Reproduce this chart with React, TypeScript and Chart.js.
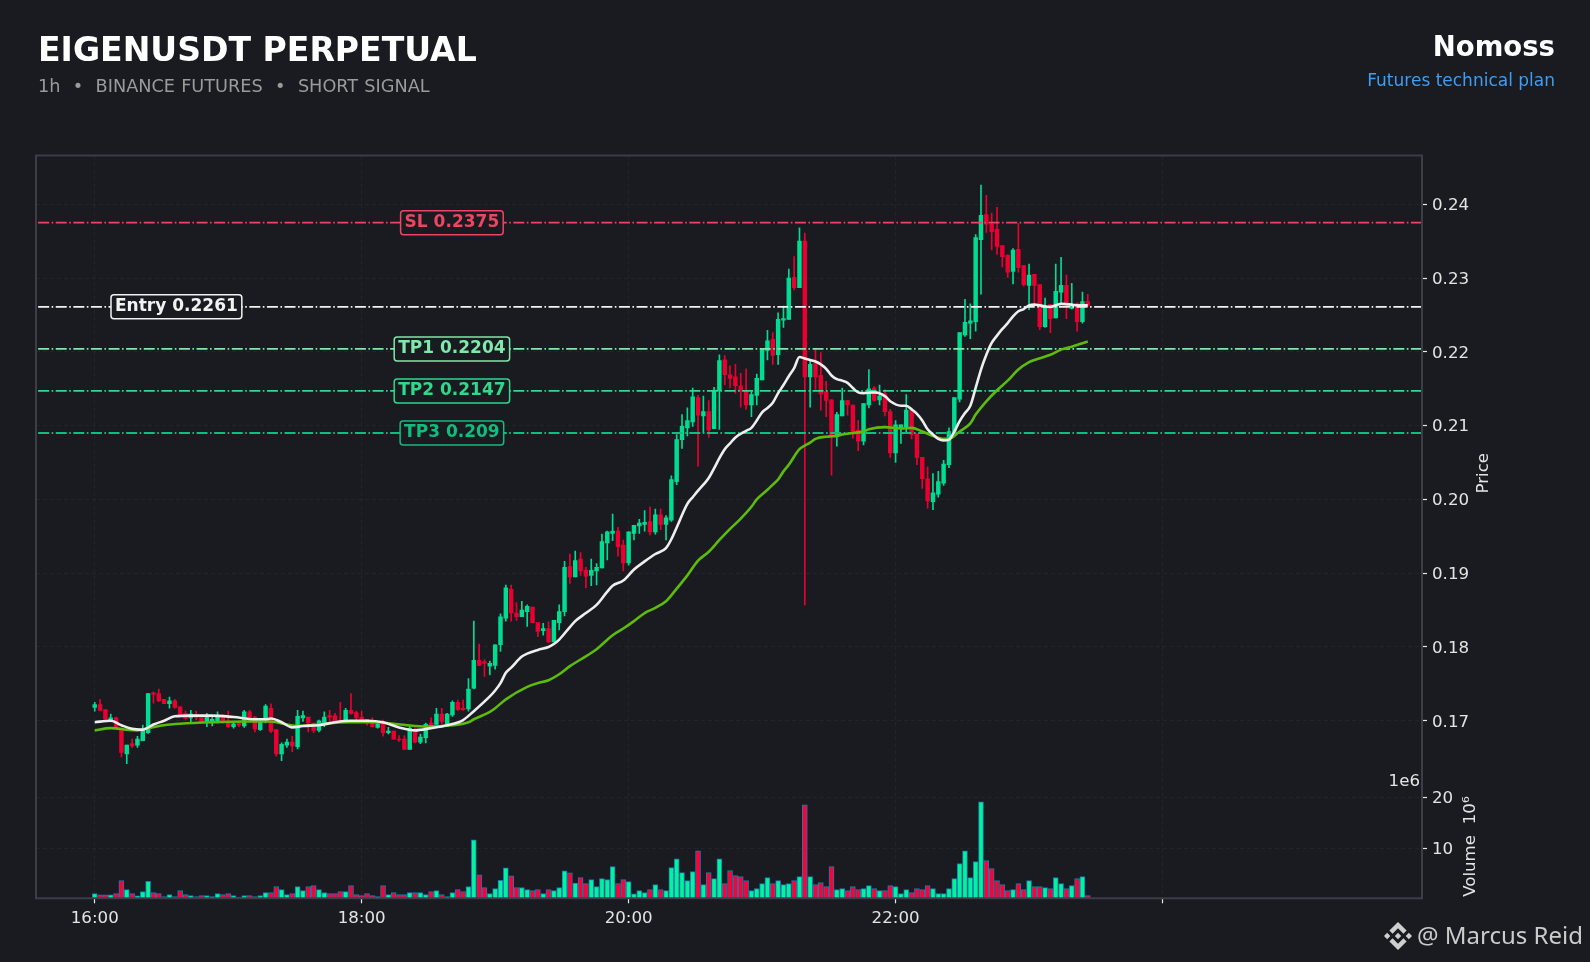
import React, { useEffect, useRef } from "react";
import { Chart, registerables } from "chart.js";

Chart.register(...registerables);

const open = [
  0.1718,0.1722,0.1715,0.1701,0.1704,0.1690,0.1655,0.1669,0.1667,0.1673,
  0.1684,0.1738,0.1737,0.1729,0.1723,0.1727,0.1719,0.1710,0.1704,0.1708,
  0.1706,0.1699,0.1699,0.1700,0.1706,0.1700,0.1692,0.1697,0.1693,0.1712,
  0.1705,0.1688,0.1702,0.1717,0.1688,0.1655,0.1667,0.1671,0.1665,0.1704,
  0.1705,0.1697,0.1687,0.1697,0.1707,0.1707,0.1701,0.1699,0.1714,0.1711,
  0.1705,0.1702,0.1698,0.1691,0.1695,0.1684,0.1686,0.1675,0.1675,0.1661,
  0.1688,0.1671,0.1677,0.1697,0.1695,0.1709,0.1696,0.1708,0.1725,0.1717,
  0.1716,0.1744,0.1782,0.1780,0.1774,0.1775,0.1803,0.1839,0.1878,0.1846,
  0.1841,0.1848,0.1854,0.1833,0.1822,0.1825,0.1807,0.1833,0.1848,0.1909,
  0.1895,0.1919,0.1904,0.1897,0.1903,0.1907,0.1941,0.1954,0.1957,0.1938,
  0.1914,0.1954,0.1964,0.1966,0.1970,0.1956,0.1979,0.1966,0.1972,0.2024,
  0.2081,0.2097,0.2105,0.2138,0.2113,0.2119,0.2096,0.2147,0.2189,0.2169,
  0.2166,0.2154,0.2147,0.2128,0.2141,0.2162,0.2202,0.2217,0.2196,0.2243,
  0.2244,0.2301,0.2287,0.2350,0.2166,0.2184,0.2168,0.2146,0.2135,0.2085,
  0.2113,0.2134,0.2128,0.2094,0.2079,0.2128,0.2151,0.2135,0.2143,0.2119,
  0.2063,0.2097,0.2098,0.2121,0.2089,0.2057,0.2028,0.1997,0.2007,0.2022,
  0.2047,0.2092,0.2136,0.2223,0.2239,0.2241,0.2352,0.2386,0.2373,0.2366,
  0.2344,0.2331,0.2309,0.2339,0.2317,0.2290,0.2305,0.2291,0.2234,0.2264,
  0.2246,0.2281,0.2290,0.2259,0.2266,0.2241,0.2268,
];
const high = [
  0.1725,0.1729,0.1715,0.1709,0.1705,0.1690,0.1667,0.1675,0.1679,0.1694,
  0.1737,0.1739,0.1743,0.1729,0.1732,0.1729,0.1719,0.1713,0.1714,0.1713,
  0.1708,0.1710,0.1706,0.1712,0.1708,0.1713,0.1699,0.1699,0.1714,0.1714,
  0.1706,0.1701,0.1722,0.1723,0.1688,0.1670,0.1675,0.1679,0.1714,0.1713,
  0.1705,0.1697,0.1701,0.1712,0.1714,0.1710,0.1725,0.1717,0.1737,0.1713,
  0.1713,0.1702,0.1704,0.1697,0.1701,0.1691,0.1686,0.1680,0.1680,0.1693,
  0.1690,0.1682,0.1697,0.1704,0.1717,0.1717,0.1710,0.1727,0.1728,0.1728,
  0.1757,0.1835,0.1804,0.1783,0.1781,0.1803,0.1845,0.1884,0.1884,0.1860,
  0.1862,0.1857,0.1854,0.1833,0.1832,0.1834,0.1836,0.1857,0.1916,0.1926,
  0.1930,0.1928,0.1908,0.1919,0.1913,0.1953,0.1957,0.1980,0.1962,0.1945,
  0.1956,0.1965,0.1973,0.1985,0.1990,0.1987,0.1987,0.1978,0.2032,0.2088,
  0.2115,0.2124,0.2151,0.2141,0.2140,0.2134,0.2152,0.2196,0.2195,0.2181,
  0.2183,0.2171,0.2177,0.2146,0.2170,0.2204,0.2229,0.2226,0.2253,0.2262,
  0.2312,0.2329,0.2368,0.2361,0.2190,0.2204,0.2199,0.2160,0.2135,0.2118,
  0.2151,0.2134,0.2128,0.2107,0.2130,0.2176,0.2153,0.2155,0.2149,0.2122,
  0.2107,0.2101,0.2142,0.2124,0.2089,0.2057,0.2044,0.2035,0.2038,0.2053,
  0.2097,0.2138,0.2226,0.2271,0.2265,0.2359,0.2426,0.2412,0.2388,0.2396,
  0.2344,0.2331,0.2340,0.2374,0.2317,0.2319,0.2305,0.2291,0.2273,0.2264,
  0.2319,0.2328,0.2304,0.2293,0.2266,0.2281,0.2278,
];
const low = [
  0.1713,0.1714,0.1702,0.1699,0.1690,0.1651,0.1642,0.1664,0.1664,0.1673,
  0.1683,0.1724,0.1726,0.1723,0.1717,0.1717,0.1706,0.1702,0.1698,0.1701,
  0.1699,0.1692,0.1693,0.1697,0.1697,0.1691,0.1690,0.1692,0.1691,0.1700,
  0.1685,0.1687,0.1697,0.1684,0.1652,0.1646,0.1664,0.1658,0.1662,0.1699,
  0.1685,0.1684,0.1685,0.1692,0.1699,0.1697,0.1698,0.1697,0.1709,0.1701,
  0.1699,0.1694,0.1692,0.1690,0.1679,0.1682,0.1675,0.1672,0.1661,0.1661,
  0.1670,0.1669,0.1670,0.1692,0.1695,0.1695,0.1695,0.1706,0.1714,0.1714,
  0.1713,0.1743,0.1775,0.1760,0.1762,0.1770,0.1794,0.1835,0.1835,0.1836,
  0.1841,0.1828,0.1833,0.1814,0.1816,0.1806,0.1807,0.1823,0.1842,0.1886,
  0.1895,0.1897,0.1880,0.1883,0.1884,0.1907,0.1918,0.1944,0.1923,0.1903,
  0.1911,0.1945,0.1954,0.1957,0.1952,0.1953,0.1959,0.1945,0.1970,0.2020,
  0.2069,0.2086,0.2099,0.2045,0.2090,0.2084,0.2096,0.2095,0.2155,0.2151,
  0.2144,0.2125,0.2122,0.2112,0.2128,0.2162,0.2189,0.2183,0.2183,0.2233,
  0.2244,0.2284,0.2287,0.1857,0.2125,0.2149,0.2121,0.2112,0.2033,0.2072,
  0.2113,0.2114,0.2083,0.2066,0.2074,0.2124,0.2133,0.2128,0.2113,0.2057,
  0.2050,0.2076,0.2090,0.2082,0.2047,0.2015,0.1988,0.1986,0.2003,0.2019,
  0.2043,0.2090,0.2132,0.2221,0.2218,0.2228,0.2278,0.2362,0.2338,0.2332,
  0.2315,0.2301,0.2292,0.2308,0.2289,0.2257,0.2264,0.2230,0.2233,0.2226,
  0.2246,0.2264,0.2245,0.2258,0.2228,0.2239,0.2262,
];
const close = [
  0.1722,0.1714,0.1702,0.1704,0.1690,0.1657,0.1667,0.1666,0.1675,0.1688,
  0.1737,0.1736,0.1727,0.1723,0.1727,0.1718,0.1708,0.1703,0.1709,0.1704,
  0.1699,0.1706,0.1702,0.1706,0.1699,0.1692,0.1696,0.1694,0.1712,0.1705,
  0.1689,0.1699,0.1720,0.1686,0.1655,0.1668,0.1671,0.1666,0.1706,0.1707,
  0.1697,0.1687,0.1700,0.1705,0.1705,0.1699,0.1699,0.1714,0.1710,0.1704,
  0.1702,0.1697,0.1692,0.1695,0.1684,0.1686,0.1675,0.1674,0.1661,0.1690,
  0.1671,0.1678,0.1695,0.1693,0.1709,0.1699,0.1709,0.1725,0.1715,0.1715,
  0.1743,0.1782,0.1775,0.1778,0.1778,0.1803,0.1841,0.1880,0.1846,0.1841,
  0.1850,0.1855,0.1833,0.1821,0.1825,0.1807,0.1836,0.1848,0.1908,0.1895,
  0.1917,0.1903,0.1896,0.1904,0.1908,0.1943,0.1956,0.1957,0.1936,0.1914,
  0.1956,0.1965,0.1968,0.1969,0.1956,0.1979,0.1966,0.1975,0.2027,0.2081,
  0.2099,0.2107,0.2139,0.2114,0.2119,0.2094,0.2147,0.2188,0.2169,0.2164,
  0.2154,0.2147,0.2128,0.2142,0.2164,0.2204,0.2215,0.2195,0.2244,0.2245,
  0.2300,0.2287,0.2350,0.2166,0.2183,0.2166,0.2143,0.2134,0.2087,0.2115,
  0.2134,0.2128,0.2092,0.2079,0.2130,0.2150,0.2134,0.2140,0.2119,0.2063,
  0.2101,0.2101,0.2121,0.2088,0.2057,0.2028,0.1998,0.2009,0.2024,0.2048,
  0.2092,0.2138,0.2226,0.2240,0.2242,0.2355,0.2385,0.2373,0.2363,0.2343,
  0.2329,0.2308,0.2338,0.2314,0.2291,0.2304,0.2290,0.2234,0.2260,0.2245,
  0.2282,0.2290,0.2264,0.2264,0.2241,0.2268,0.2263,
];
const volumeMillions = [
  1.11,0.85,0.85,0.85,1.11,3.66,1.9,1.1,0.65,1.5,
  3.5,1.3,1.1,0.5,0.9,0.5,1.7,0.9,0.7,0.5,
  0.7,0.7,0.5,1.1,0.9,1.1,0.7,0.4,0.7,0.7,
  0.5,0.7,1.3,1.3,2.5,1.9,0.9,1.1,2.5,1.7,
  2.5,2.7,1.9,1.3,1.1,1.1,1.5,1.5,2.7,0.9,
  0.7,1.1,0.7,0.5,2.7,0.9,1.3,0.9,0.9,1.3,
  1.3,1.3,0.9,1.5,1.7,0.9,0.5,1.3,1.9,1.5,
  2.5,11.7,4.8,2.3,1.1,2.1,3.7,6.2,4.6,2.3,
  2.3,1.9,1.7,1.9,1.1,1.9,1.7,2.3,5.6,5.2,
  3.2,4.25,3.07,3.86,2.48,4.05,3.86,6.41,3.07,3.86,
  3.46,1.05,1.7,1.31,1.9,2.88,1.9,1.7,6.21,7.97,
  5.23,3.66,5.42,9.54,2.88,5.23,4.05,7.97,3.07,5.62,
  4.64,4.44,3.66,1.7,2.09,3.07,4.25,3.07,3.66,2.88,
  3.07,3.66,4.44,18.56,4.44,2.88,3.27,2.48,6.41,1.9,
  2.09,1.7,2.48,1.9,2.09,2.68,2.09,1.7,1.7,2.68,
  2.48,1.11,1.9,1.31,2.09,1.9,2.68,2.09,1.11,1.11,
  2.09,4.05,6.99,9.54,4.25,7.39,19.15,7.58,6.01,3.66,
  2.88,1.7,1.9,3.07,1.9,3.66,2.48,2.48,2.29,2.09,
  4.25,3.07,2.09,2.68,4.05,4.44,0.72,
];

const fastIndex = [
  0,3,5,7,9,11,13,15,18,22,26,30,32,33,35,37,39,42,45,48,51,54,57,60,63,66,69,71,74,75,76,77,78,80,81,83,85,86,87,89,90,92,94,96,97,99,101,103,105,107,108,109,111,112,113,114,115,116,117,118,119,120,122,123,124,125,126,127,128,129,130,131,132,133,134,135,136,137,138,139,140,141,142,143,144,146,148,149,151,152,153,154,155,156,157,158,159,160,161,162,163,164,165,166,167,168,169,170,171,172,173,174,175,176,177,179,180,181,183,184,186,
];
const fastValue = [
  0.1698,0.17,0.1694,0.1689,0.1688,0.1695,0.17,0.1706,0.1707,0.1707,0.1705,0.1702,0.1702,0.1703,0.1698,0.1691,0.1693,0.1694,0.1698,0.17,0.17,0.1698,0.1691,0.1687,0.169,0.1694,0.1701,0.1713,0.1733,0.1741,0.1751,0.1765,0.1772,0.1787,0.1791,0.1796,0.18,0.1804,0.181,0.1827,0.1835,0.1846,0.1857,0.1875,0.1883,0.189,0.1905,0.1916,0.1926,0.1934,0.1946,0.1962,0.1994,0.2003,0.2012,0.202,0.2029,0.2042,0.2056,0.2068,0.2076,0.2084,0.2093,0.2097,0.2107,0.2118,0.2124,0.2131,0.2144,0.2155,0.2167,0.2178,0.2193,0.2191,0.2189,0.2187,0.2183,0.2177,0.2168,0.2163,0.2161,0.2158,0.2151,0.2145,0.2144,0.2145,0.214,0.2133,0.2127,0.2127,0.2122,0.2116,0.2107,0.2095,0.2088,0.2082,0.208,0.2081,0.2092,0.2106,0.2117,0.2127,0.2151,0.2176,0.2196,0.2212,0.2222,0.2231,0.2239,0.2248,0.2255,0.2258,0.2263,0.2264,0.2263,0.2261,0.2263,0.2265,0.2264,0.2263,0.2263,
];
const slowIndex = [
  0,3,6,8,10,13,16,22,28,33,36,38,42,47,52,56,60,63,67,70,71,74,75,77,81,83,85,87,89,91,94,97,99,101,103,105,107,108,109,111,113,115,117,119,121,123,124,126,127,128,129,130,132,133,134,135,137,139,140,142,144,145,148,151,153,155,157,159,160,162,164,165,167,169,171,173,175,176,179,181,183,186,
];
const slowValue = [
  0.1687,0.169,0.1688,0.1687,0.169,0.1694,0.1696,0.1698,0.1699,0.1699,0.1695,0.1693,0.1695,0.1698,0.1698,0.1696,0.1693,0.1692,0.1694,0.1698,0.1702,0.1712,0.1717,0.1729,0.1746,0.1751,0.1755,0.1763,0.1774,0.1783,0.1797,0.1816,0.1825,0.1835,0.1846,0.1853,0.1862,0.187,0.1879,0.1897,0.1917,0.1929,0.1945,0.196,0.1974,0.199,0.2,0.2013,0.202,0.2027,0.2038,0.2047,0.2068,0.2073,0.2077,0.2082,0.2085,0.2086,0.2088,0.209,0.2092,0.2095,0.2098,0.2096,0.2097,0.2092,0.2086,0.2082,0.2082,0.2092,0.2103,0.2115,0.2133,0.2148,0.2161,0.2176,0.2186,0.2189,0.2196,0.2203,0.2207,0.2214,
];

const levelPrices = [0.2375, 0.2261, 0.2204, 0.2147, 0.209];
const levelLabels = ["SL 0.2375", "Entry 0.2261", "TP1 0.2204", "TP2 0.2147", "TP3 0.209"];
const levelColors = ["#ee4562", "#f2f2f2", "#7fe8ab", "#2fd98c", "#10bd7e"];
const labelIndex = [66.9, 15.3, 66.9, 66.9, 66.9];

const xTickValues = [0, 50, 100, 150, 200];
const xTickLabels = ["16:00", "18:00", "20:00", "22:00", ""];
const priceTicks = [0.17, 0.18, 0.19, 0.2, 0.21, 0.22, 0.23, 0.24];
const volumeTicks = [10, 20];

const BG = "#191b20";
const CANDLE_UP = "#00dc91";
const CANDLE_DOWN = "#ea0030";
const VOL_UP = "#00f59b";
const VOL_DOWN = "#ff0033";
const GRID = "rgba(255,255,255,0.045)";
const X_MIN = -11;
const X_MAX = 248.6;
const TICK_FONT = { family: "DejaVu Sans", size: 16.67 };
const BINANCE_MARK =
  "M38.73 53.2l24.59-24.58 24.6 24.6 14.3-14.31L63.32 0l-38.9 38.9zM0 63.31l14.3-14.31 14.31 14.31-14.31 14.3zM38.73 73.41l24.59 24.59 24.6-24.6 14.31 14.29-38.9 38.91-38.91-38.88-.02-.02zM98 63.31l14.3-14.31 14.31 14.3-14.31 14.32zM77.83 63.3L63.32 48.78 52.59 59.51l-1.24 1.23-2.54 2.54 14.51 14.5 14.5-14.47z";

const isUp = open.map((o, i) => close[i] >= o);

const overlay = {
  id: "overlay",
  beforeDraw(chart: any) {
    // The reference sets its value labels slightly below the tick mark.
    [chart.scales.price, chart.scales.volume].forEach((s: any, n: number) => {
      s.getLabelItems().forEach((item: any) => {
        item.options.translation = [item.options.translation[0], item.options.translation[1] + (n === 0 ? 1.5 : 1)];
      });
    });
  },
  afterDraw(chart: any) {
    const { ctx, chartArea, scales } = chart;
    ctx.save();
    ctx.strokeStyle = "#3b3e46";
    ctx.lineWidth = 2;
    ctx.strokeRect(chartArea.left, chartArea.top, chartArea.right - chartArea.left, chartArea.bottom - chartArea.top);

    ctx.textAlign = "center";
    ctx.textBaseline = "middle";
    ctx.font = 'bold 17px "DejaVu Sans"';
    levelLabels.forEach((t, i) => {
      const x = scales.x.getPixelForValue(labelIndex[i]);
      const y = scales.price.getPixelForValue(levelPrices[i]);
      const w = ctx.measureText(t).width + 8;
      const h = 24;
      ctx.beginPath();
      ctx.roundRect(x - w / 2, y - h / 2, w, h, 3);
      ctx.fillStyle = BG;
      ctx.fill();
      ctx.lineWidth = 1.5;
      ctx.strokeStyle = levelColors[i];
      ctx.stroke();
      ctx.fillStyle = levelColors[i];
      ctx.fillText(t, x, y - 0.5);
    });

    ctx.fillStyle = "#e4e4e4";
    ctx.font = '16.67px "DejaVu Sans"';
    const side = (t: string, x: number, y: number) => {
      ctx.save();
      ctx.translate(x, y);
      ctx.rotate(-Math.PI / 2);
      ctx.fillText(t, 0, 0);
      ctx.restore();
    };
    side("Price", 1484, (scales.price.top + scales.price.bottom) / 2);
    side("Volume  10\u2076", 1471, (scales.volume.top + scales.volume.bottom) / 2 + 2);
    ctx.textAlign = "right";
    ctx.fillText("1e6", 1420, 782);
    ctx.restore();
  },
};

const yAxisBase = {
  position: "right" as const,
  stack: "panels",
  border: { display: false, dash: [4, 3] },
  grid: { color: GRID, lineWidth: 1, tickColor: "#e8e8e8", tickLength: 5, tickWidth: 1.2 },
  afterFit(s: any) {
    s.width = 168;
  },
};

export default function App() {
  const ref = useRef<HTMLCanvasElement>(null);
  useEffect(() => {
    document.body.style.margin = "0";
    document.body.style.background = BG;
    const bars = (
      label: string,
      yAxisID: string,
      data: any[],
      colors: string[],
      thickness: number,
      order: number,
      extra: any = {},
    ) => ({
      type: "bar" as const,
      label,
      yAxisID,
      xAxisID: "x",
      data,
      backgroundColor: colors,
      barThickness: thickness,
      grouped: false,
      order,
      ...extra,
    });
    const candleColors = isUp.map((u) => (u ? CANDLE_UP : CANDLE_DOWN));
    const chart = new Chart(ref.current!, {
      type: "bar",
      data: {
        datasets: [
          bars(
            "Volume",
            "volume",
            volumeMillions.map((v, i) => ({ x: i, y: v })),
            isUp.map((u) => (u ? VOL_UP : VOL_DOWN)),
            5,
            9,
            { borderColor: "#1f77b4", borderWidth: 1 },
          ),
          bars("Wick", "price", low.map((l, i) => ({ x: i, y: [l, high[i]] })), candleColors, 1, 8),
          bars("Body", "price", open.map((o, i) => ({ x: i, y: [o, close[i]] })), candleColors, 3.8, 7),
          ...levelPrices.map((p, i) => ({
            type: "line" as const,
            label: levelLabels[i],
            yAxisID: "price",
            xAxisID: "x",
            data: [
              { x: X_MIN + 0.4, y: p },
              { x: X_MAX, y: p },
            ],
            borderColor: levelColors[i],
            borderWidth: 1.8,
            borderDash: [11, 2.5, 1.6, 2.5],
            pointRadius: 0,
            order: 6,
          })),
          {
            type: "line" as const,
            label: "Slow",
            yAxisID: "price",
            xAxisID: "x",
            data: slowIndex.map((x, i) => ({ x, y: slowValue[i] })),
            borderColor: "#5dbb0a",
            borderWidth: 2.6,
            pointRadius: 0,
            cubicInterpolationMode: "monotone" as const,
            order: 2,
          },
          {
            type: "line" as const,
            label: "Fast",
            yAxisID: "price",
            xAxisID: "x",
            data: fastIndex.map((x, i) => ({ x, y: fastValue[i] })),
            borderColor: "#eeeeee",
            borderWidth: 2.6,
            pointRadius: 0,
            cubicInterpolationMode: "monotone" as const,
            order: 1,
          },
        ],
      },
      options: {
        responsive: false,
        animation: false,
        devicePixelRatio: 1,
        parsing: { xAxisKey: "x", yAxisKey: "y" },
        layout: { padding: { left: 36, top: 155.5, right: 0, bottom: 0 } },
        plugins: { legend: { display: false }, tooltip: { enabled: false } },
        scales: {
          x: {
            type: "linear",
            offset: false,
            min: X_MIN,
            max: X_MAX,
            border: { display: false, dash: [4, 3] },
            grid: { offset: false, color: GRID, tickColor: "#e8e8e8", tickLength: 5, tickWidth: 1.2 },
            ticks: {
              color: "#e4e4e4",
              font: TICK_FONT,
              autoSkip: false,
              maxRotation: 0,
              padding: 5,
              callback: (_v: any, i: number) => xTickLabels[i],
            },
            afterBuildTicks(s: any) {
              s.ticks = xTickValues.map((value) => ({ value }));
            },
            afterFit(s: any) {
              s.height = 63.7;
            },
          },
          price: {
            ...yAxisBase,
            type: "linear",
            min: 0.16048,
            max: 0.24661,
            stackWeight: 635.5,
            weight: 1,
            ticks: {
              color: "#e4e4e4",
              font: TICK_FONT,
              padding: 5,
              callback: (v: any) => Number(v).toFixed(2),
            },
            afterBuildTicks(s: any) {
              s.ticks = priceTicks.map((value) => ({ value }));
            },
          },
          volume: {
            ...yAxisBase,
            type: "linear",
            min: 0.18,
            max: 21.3,
            stackWeight: 107.3,
            weight: 2,
            ticks: {
              color: "#e4e4e4",
              font: TICK_FONT,
              padding: 5,
              callback: (v: any) => String(v),
            },
            afterBuildTicks(s: any) {
              s.ticks = volumeTicks.map((value) => ({ value }));
            },
          },
        },
      } as any,
      plugins: [overlay],
    });
    return () => chart.destroy();
  }, []);

  const text = (style: React.CSSProperties): React.CSSProperties => ({
    position: "absolute",
    fontFamily: '"DejaVu Sans"',
    whiteSpace: "pre",
    lineHeight: 1,
    ...style,
  });

  return (
    <div style={{ position: "absolute", left: 0, top: 0, width: 1590, height: 962, background: BG, overflow: "hidden" }}>
      <canvas ref={ref} width={1590} height={962} style={{ position: "absolute", left: 0, top: 0, display: "block" }} />
      <div style={text({ left: 38, top: 33, fontSize: 33.1, fontWeight: 700, color: "#ffffff" })}>EIGENUSDT PERPETUAL</div>
      <div style={text({ left: 38, top: 78, fontSize: 17.7, wordSpacing: 0.55, color: "#9b9b9b" })}>{"1h  \u2022  BINANCE FUTURES  \u2022  SHORT SIGNAL"}</div>
      <div style={text({ right: 35, top: 33, fontSize: 27.5, fontWeight: 700, color: "#ffffff" })}>Nomoss</div>
      <div style={text({ right: 35, top: 72, fontSize: 17, color: "#3f9df2" })}>Futures technical plan</div>
      <svg style={{ position: "absolute", left: 1384, top: 922 }} width="28" height="28" viewBox="0 0 126.61 126.61">
        <path d={BINANCE_MARK} fill="#cfcfcf" />
      </svg>
      <div style={text({ left: 1417, top: 923, fontSize: 24, color: "#cbcbcb", fontFamily: '"Noto Sans"' })}>@ Marcus Reid</div>
    </div>
  );
}
